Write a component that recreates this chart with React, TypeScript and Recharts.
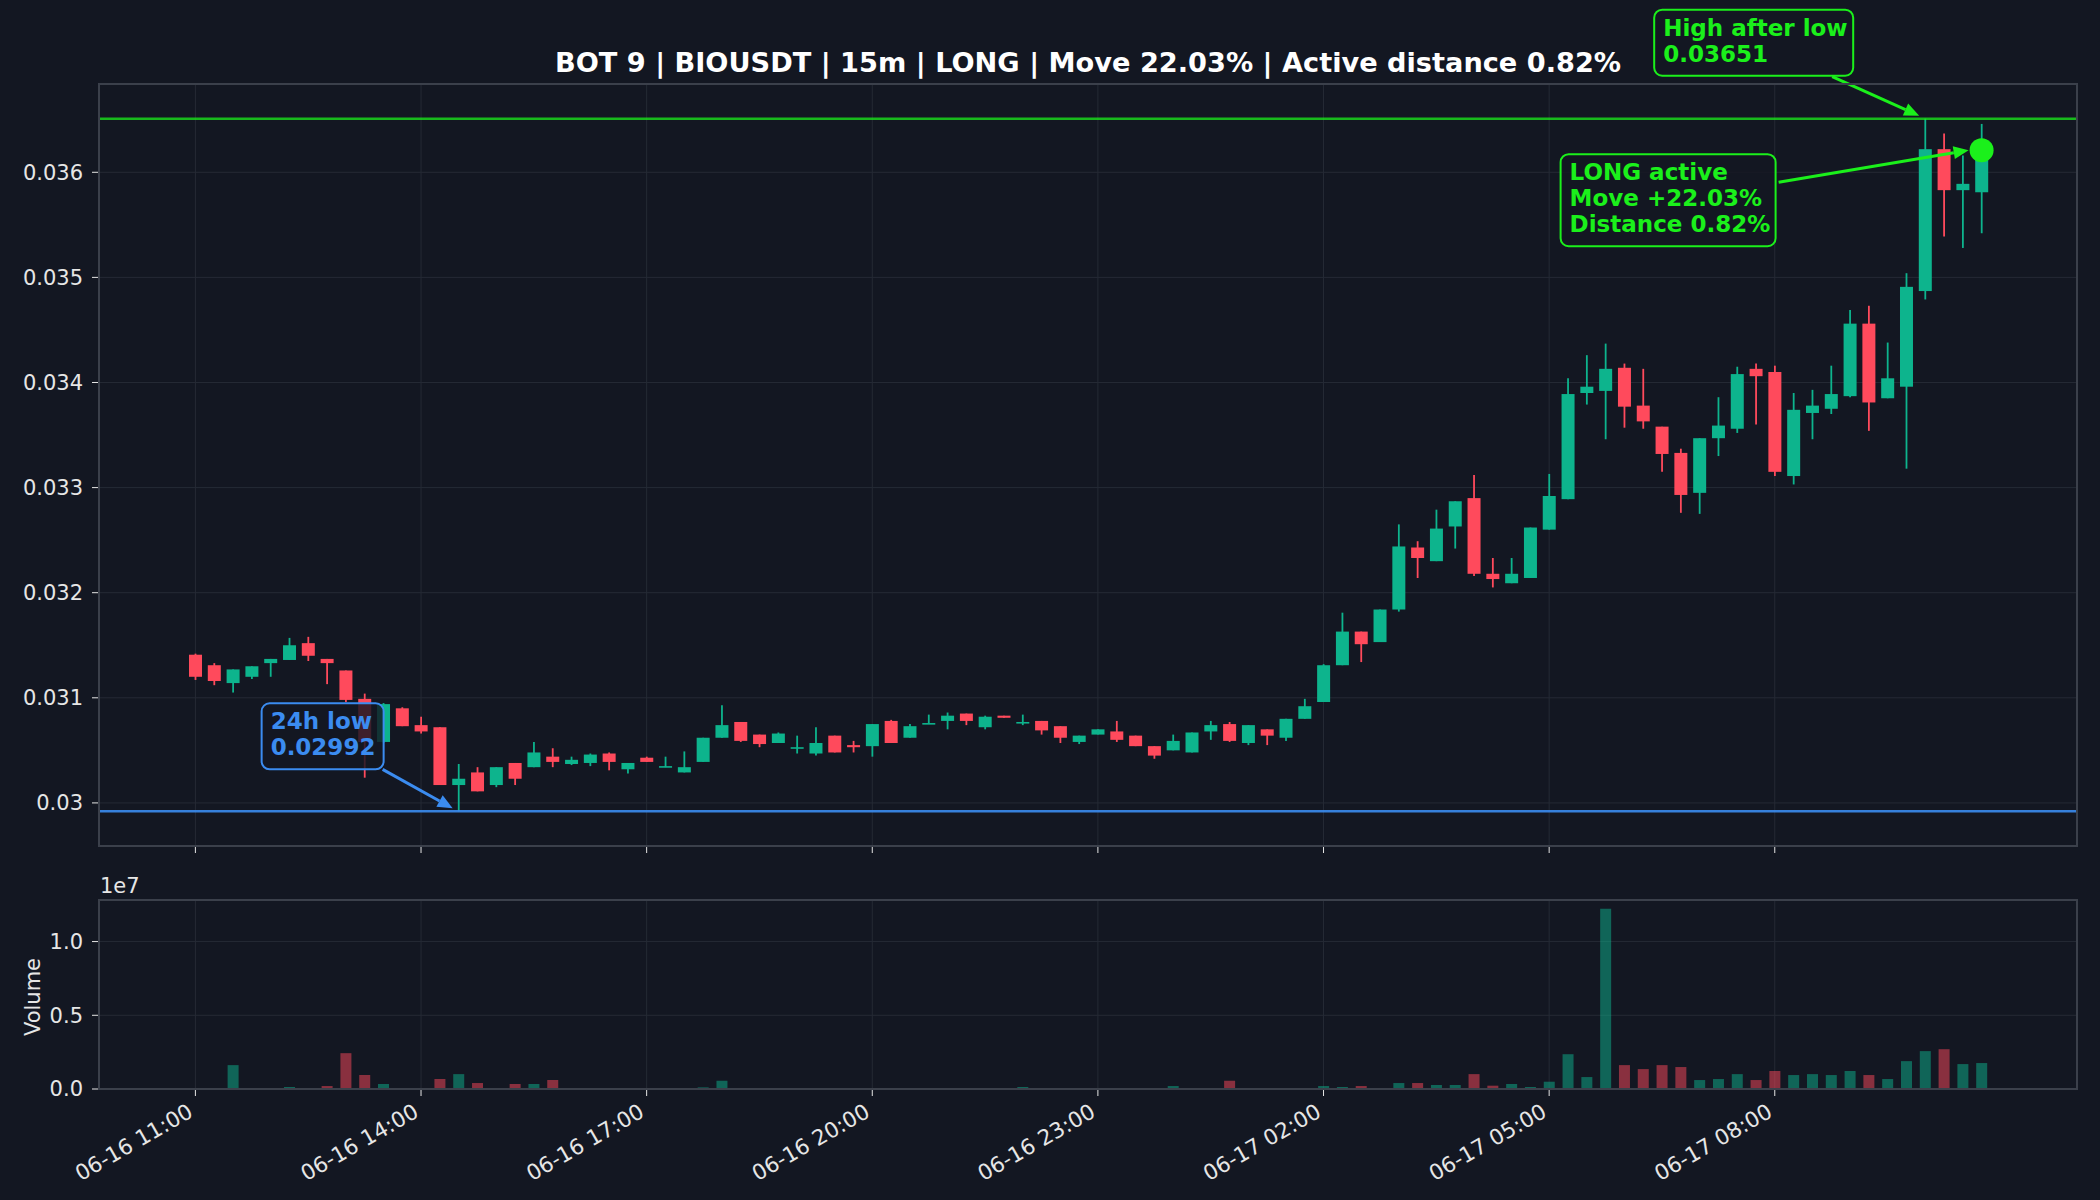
import React from 'react';
import {
  ComposedChart,
  Bar,
  Cell,
  XAxis,
  YAxis,
  CartesianGrid,
  ReferenceLine,
  ReferenceDot
} from 'recharts';

// 15m candles, 06-16 11:00 -> 06-17 10:45
const opens = [
  0.03141, 0.03131, 0.03114, 0.0312, 0.03133, 0.03136, 0.03152, 0.03137, 0.03126, 0.03099,
  0.03058, 0.0309, 0.03074, 0.03072, 0.03017, 0.03029, 0.03017, 0.03038, 0.03034, 0.03044,
  0.03037, 0.03038, 0.03047, 0.03032, 0.03043, 0.03034, 0.03029, 0.03039, 0.03062, 0.03077,
  0.03065, 0.03057, 0.03052, 0.03047, 0.03064, 0.03055, 0.03054, 0.03078, 0.03062, 0.03075,
  0.03078, 0.03085, 0.03072, 0.03083, 0.03076, 0.03078, 0.03073, 0.03058, 0.03065, 0.03068,
  0.03064, 0.03054, 0.0305, 0.03048, 0.03068, 0.03075, 0.03057, 0.0307, 0.03062, 0.0308,
  0.03096, 0.03131, 0.03163, 0.03153, 0.03184, 0.03243, 0.0323, 0.03263, 0.0329, 0.03218,
  0.03209, 0.03214, 0.0326, 0.03289, 0.0339, 0.03392, 0.03414, 0.03378, 0.03358, 0.03333,
  0.03295, 0.03347, 0.03356, 0.03413, 0.0341, 0.03311, 0.03371, 0.03375, 0.03387, 0.03456,
  0.03385, 0.03396, 0.03487, 0.03622, 0.03583, 0.03581
];
const highs = [
  0.03142, 0.03133, 0.03127, 0.0313, 0.03137, 0.03157, 0.03158, 0.03137, 0.03126, 0.03104,
  0.03095, 0.03091, 0.03082, 0.03072, 0.03037, 0.03034, 0.03034, 0.03038, 0.03058, 0.03052,
  0.03044, 0.03047, 0.03048, 0.03038, 0.03044, 0.03044, 0.03049, 0.03062, 0.03093, 0.03077,
  0.03065, 0.03067, 0.03064, 0.03072, 0.03064, 0.03059, 0.03075, 0.03079, 0.03075, 0.03084,
  0.03086, 0.03085, 0.03083, 0.03083, 0.03084, 0.03078, 0.03073, 0.03064, 0.0307, 0.03078,
  0.03064, 0.03054, 0.03065, 0.03067, 0.03078, 0.03077, 0.03074, 0.0307, 0.0308, 0.03099,
  0.03132, 0.03181, 0.03163, 0.03184, 0.03265, 0.03249, 0.03279, 0.03287, 0.03312, 0.03233,
  0.03233, 0.03262, 0.03313, 0.03404, 0.03426, 0.03437, 0.03418, 0.03413, 0.03358, 0.03337,
  0.03347, 0.03386, 0.03415, 0.03418, 0.03416, 0.0339, 0.03393, 0.03416, 0.03469, 0.03473,
  0.03438, 0.03504, 0.03651, 0.03637, 0.03616, 0.03646
];
const lows = [
  0.03117, 0.03112, 0.03105, 0.03118, 0.0312, 0.03136, 0.03135, 0.03113, 0.03096, 0.03024,
  0.03057, 0.03073, 0.03066, 0.03017, 0.02992, 0.03011, 0.03015, 0.03017, 0.03034, 0.03034,
  0.03036, 0.03035, 0.03031, 0.03028, 0.03039, 0.03034, 0.03029, 0.03039, 0.03062, 0.03058,
  0.03053, 0.03057, 0.03047, 0.03045, 0.03048, 0.03048, 0.03044, 0.03057, 0.03062, 0.03075,
  0.0307, 0.03074, 0.0307, 0.03081, 0.03074, 0.03065, 0.03057, 0.03056, 0.03065, 0.03058,
  0.03054, 0.03042, 0.0305, 0.03048, 0.0306, 0.03058, 0.03055, 0.03055, 0.03059, 0.0308,
  0.03096, 0.03131, 0.03134, 0.03153, 0.03182, 0.03214, 0.0323, 0.03242, 0.03216, 0.03205,
  0.03209, 0.03214, 0.0326, 0.03289, 0.03379, 0.03346, 0.03357, 0.03356, 0.03315, 0.03276,
  0.03275, 0.0333, 0.03352, 0.0336, 0.03311, 0.03303, 0.03346, 0.0337, 0.03386, 0.03354,
  0.03385, 0.03318, 0.03479, 0.03539, 0.03528, 0.03542
];
const closes = [
  0.0312, 0.03116, 0.03127, 0.0313, 0.03137, 0.0315, 0.0314, 0.03133, 0.03098, 0.03058,
  0.03094, 0.03073, 0.03068, 0.03017, 0.03023, 0.03011, 0.03034, 0.03023, 0.03048, 0.03039,
  0.03041, 0.03046, 0.03039, 0.03038, 0.03039, 0.03035, 0.03034, 0.03062, 0.03074, 0.03059,
  0.03056, 0.03066, 0.03053, 0.03057, 0.03048, 0.03053, 0.03075, 0.03057, 0.03073, 0.03076,
  0.03083, 0.03078, 0.03082, 0.03081, 0.03077, 0.03069, 0.03062, 0.03064, 0.0307, 0.0306,
  0.03054, 0.03045, 0.03059, 0.03067, 0.03074, 0.03059, 0.03074, 0.03064, 0.0308, 0.03092,
  0.03131, 0.03163, 0.03151, 0.03184, 0.03244, 0.03233, 0.03261, 0.03287, 0.03218, 0.03213,
  0.03218, 0.03262, 0.03292, 0.03389, 0.03396, 0.03413, 0.03377, 0.03363, 0.03332, 0.03293,
  0.03347, 0.03359, 0.03408, 0.03406, 0.03315, 0.03374, 0.03378, 0.03389, 0.03456, 0.03381,
  0.03404, 0.03491, 0.03622, 0.03583, 0.03589, 0.03621
];
const volumes = [
  40000, 30000, 1620000, 50000, 40000, 135000, 60000, 200000, 2430000, 950000,
  340000, 50000, 40000, 680000, 1010000, 405000, 40000, 340000, 340000, 610000,
  40000, 30000, 20000, 30000, 20000, 20000, 40000, 110000, 560000, 30000,
  30000, 20000, 20000, 30000, 20000, 20000, 40000, 30000, 20000, 20000,
  30000, 20000, 30000, 20000, 135000, 30000, 20000, 20000, 20000, 30000,
  20000, 30000, 200000, 30000, 40000, 560000, 30000, 40000, 30000, 60000,
  200000, 135000, 200000, 50000, 405000, 405000, 270000, 270000, 1010000, 225000,
  340000, 135000, 495000, 2360000, 810000, 12230000, 1620000, 1350000, 1620000, 1490000,
  608000, 676000, 1010000, 608000, 1220000, 946000, 1010000, 946000, 1220000, 946000,
  676000, 1890000, 2570000, 2700000, 1690000, 1760000
];

const priceTicks = [0.03, 0.031, 0.032, 0.033, 0.034, 0.035, 0.036];
const volumeTicks = [0, 5000000, 10000000];

const pad2 = (n: number) => String(n).padStart(2, '0');
const times = opens.map((_, i) => {
  const mins = 11 * 60 + i * 15;
  const day = 16 + Math.floor(mins / 1440);
  const m = mins % 1440;
  return `06-${day} ${pad2(Math.floor(m / 60))}:${pad2(m % 60)}`;
});

const rows = opens.map((o, i) => ({
  t: times[i],
  open: o,
  high: highs[i],
  low: lows[i],
  close: closes[i],
  volume: volumes[i]
}));

const lowIdx = lows.indexOf(Math.min(...lows));
const highIdx = highs.indexOf(Math.max(...highs));
const lastIdx = rows.length - 1;
const LOW_24H = lows[lowIdx];
const HIGH_AFTER = highs[highIdx];
const LAST = closes[lastIdx];

const W = 2100;
const H = 1200;
const BG = '#131722';
const GRID = '#252a35';
const FRAME = '#3b404b';
const TEXT = '#e6e6e6';
const UP = '#0db48d';
const DOWN = '#ff4a5c';
const LIME = '#1bf01b';
const BLUE = '#3b8cf0';
const FONT = 'DejaVu Sans';

const PLOT_L = 99;
const PLOT_R = 2077;
const MAIN_T = 84;
const MAIN_B = 846;
const VOL_T = 900;
const VOL_B = 1089;
const XPAD = { left: 87, right: 86 };

const Candle = (props: any) => {
  const { x, y, width, height, payload } = props;
  if (!payload) return null;
  const { open, close, high, low } = payload;
  const color = close >= open ? UP : DOWN;
  const top = Math.min(y, y + height);
  const h = Math.abs(height);
  const span = high - low || 1e-9;
  const py = (v: number) => top + ((high - v) / span) * h;
  const cx = x + width / 2;
  const b1 = py(Math.max(open, close));
  const b2 = py(Math.min(open, close));
  return (
    <g>
      <line x1={cx} x2={cx} y1={top} y2={top + h} stroke={color} strokeWidth={1.8} />
      <rect x={x} y={b1} width={width} height={Math.max(b2 - b1, 1.6)} fill={color} />
    </g>
  );
};

const Arrow = ({ x1, y1, x2, y2, color }: any) => {
  const a = Math.atan2(y2 - y1, x2 - x1);
  const L = 15;
  const Wd = 6.5;
  const bx = x2 - L * Math.cos(a);
  const by = y2 - L * Math.sin(a);
  const px = -Math.sin(a) * Wd;
  const py = Math.cos(a) * Wd;
  return (
    <g>
      <line x1={x1} y1={y1} x2={bx} y2={by} stroke={color} strokeWidth={3} />
      <polygon points={`${x2},${y2} ${bx + px},${by + py} ${bx - px},${by - py}`} fill={color} />
    </g>
  );
};

// annotation box + arrow, offsets in px from the data point
const note = (cfg: any) => (props: any) => {
  const { cx, cy } = props;
  if (cx == null || cy == null) return <g />;
  const bx = cx + cfg.dx;
  const by = cy + cfg.dy;
  return (
    <g>
      <Arrow x1={cx + cfg.ax} y1={cy + cfg.ay} x2={cx + cfg.ex} y2={cy + cfg.ey} color={cfg.color} />
      <rect x={bx} y={by} width={cfg.w} height={cfg.h} rx={8} fill={BG} fillOpacity={0.82}
        stroke={cfg.color} strokeWidth={2} />
      {cfg.lines.map((s: string, i: number) => (
        <text key={i} x={bx + 9} y={by + 26 + i * 26} fill={cfg.color} fontSize={23}
          fontWeight="bold" fontFamily={FONT}>{s}</text>
      ))}
    </g>
  );
};

const lowNote = note({
  dx: -197, dy: -108, w: 122, h: 66, ax: -76, ay: -42, ex: -6, ey: -3,
  color: BLUE, lines: ['24h low', LOW_24H.toFixed(5)]
});
const highNote = note({
  dx: -271, dy: -109, w: 199, h: 66, ax: -93, ay: -42, ex: -6, ey: -3,
  color: LIME, lines: ['High after low', HIGH_AFTER.toFixed(5)]
});
const longNote = note({
  dx: -421, dy: 4, w: 215, h: 92, ax: -203, ay: 32, ex: -13, ey: 0,
  color: LIME, lines: ['LONG active', 'Move +22.03%', 'Distance 0.82%']
});

const NoLabel = () => <g />;

const TimeTick = (props: any) => {
  const { x, y, payload } = props;
  const tx = x - 9;
  return (
    <text x={tx} y={y} textAnchor="end" dominantBaseline="hanging" fill={TEXT} fontSize={21.5}
      fontFamily={FONT} transform={`rotate(-30 ${tx} ${y})`}>{payload.value}</text>
  );
};

const fmtPrice = (v: number) => String(Number(v.toFixed(3)));

export default function App() {
  return (
    <div style={{ position: 'absolute', left: 0, top: 0, width: W, height: H, background: BG, fontFamily: FONT }}>
      {/* price panel */}
      <div style={{ position: 'absolute', left: 0, top: 0 }}>
        <ComposedChart width={W} height={H} data={rows}
          margin={{ top: MAIN_T, right: W - PLOT_R, bottom: H - MAIN_B - 30, left: 0 }}>
          <CartesianGrid stroke={GRID} strokeWidth={1} />
          <XAxis dataKey="t" interval={11} padding={XPAD} height={30} tickSize={7}
            tick={<NoLabel />} stroke={TEXT} axisLine={false} />
          <YAxis type="number" domain={[0.02959, 0.03684]} ticks={priceTicks} width={PLOT_L}
            tickSize={7} tickMargin={9} tickFormatter={fmtPrice} stroke={TEXT} axisLine={false}
            tick={{ fill: TEXT, fontSize: 21, fontFamily: FONT }} />
          <ReferenceLine y={HIGH_AFTER} stroke={LIME} strokeOpacity={0.75} strokeWidth={2.5} />
          <ReferenceLine y={LOW_24H} stroke={BLUE} strokeOpacity={0.9} strokeWidth={2.5} />
          <Bar dataKey={(d: any) => [d.low, d.high]} barSize={13} shape={Candle} isAnimationActive={false} />
          <ReferenceDot x={times[lowIdx]} y={LOW_24H} shape={lowNote} ifOverflow="visible" />
          <ReferenceDot x={times[highIdx]} y={HIGH_AFTER} shape={highNote} ifOverflow="visible" />
          <ReferenceDot x={times[lastIdx]} y={LAST} shape={longNote} ifOverflow="visible" />
          <ReferenceDot x={times[lastIdx]} y={LAST} r={12} fill={LIME} stroke="none" ifOverflow="visible" />
        </ComposedChart>
      </div>
      {/* volume panel */}
      <div style={{ position: 'absolute', left: 0, top: 0 }}>
        <ComposedChart width={W} height={H} data={rows}
          margin={{ top: VOL_T, right: W - PLOT_R, bottom: H - VOL_B - 111, left: 0 }}>
          <CartesianGrid stroke={GRID} strokeWidth={1} />
          <XAxis dataKey="t" interval={11} padding={XPAD} height={111} tickSize={7} tickMargin={6}
            tick={<TimeTick />} stroke={TEXT} axisLine={false} />
          <YAxis type="number" domain={[0, 12820000]} ticks={volumeTicks} width={PLOT_L}
            tickSize={7} tickMargin={9} tickFormatter={(v: number) => (v / 1e7).toFixed(1)}
            stroke={TEXT} axisLine={false} tick={{ fill: TEXT, fontSize: 21, fontFamily: FONT }} />
          <Bar dataKey="volume" barSize={11} isAnimationActive={false}>
            {rows.map((r, i) => (
              <Cell key={i} fill={r.close >= r.open ? UP : DOWN} fillOpacity={0.5} />
            ))}
          </Bar>
        </ComposedChart>
      </div>
      {/* frames and static text */}
      <svg width={W} height={H} style={{ position: 'absolute', left: 0, top: 0, pointerEvents: 'none' }}>
        <rect x={PLOT_L} y={MAIN_T} width={PLOT_R - PLOT_L} height={MAIN_B - MAIN_T} fill="none" stroke={FRAME} strokeWidth={2} />
        <rect x={PLOT_L} y={VOL_T} width={PLOT_R - PLOT_L} height={VOL_B - VOL_T} fill="none" stroke={FRAME} strokeWidth={2} />
        <text x={(PLOT_L + PLOT_R) / 2} y={72} textAnchor="middle" fill="#ffffff" fontSize={27.2}
          fontWeight="bold" fontFamily={FONT}>
          BOT 9 | BIOUSDT | 15m | LONG | Move 22.03% | Active distance 0.82%
        </text>
        <text x={100} y={893} fill={TEXT} fontSize={21} fontFamily={FONT}>1e7</text>
        <text x={40} y={997} textAnchor="middle" fill={TEXT} fontSize={21} fontFamily={FONT}
          transform="rotate(-90 40 997)">Volume</text>
      </svg>
    </div>
  );
}
